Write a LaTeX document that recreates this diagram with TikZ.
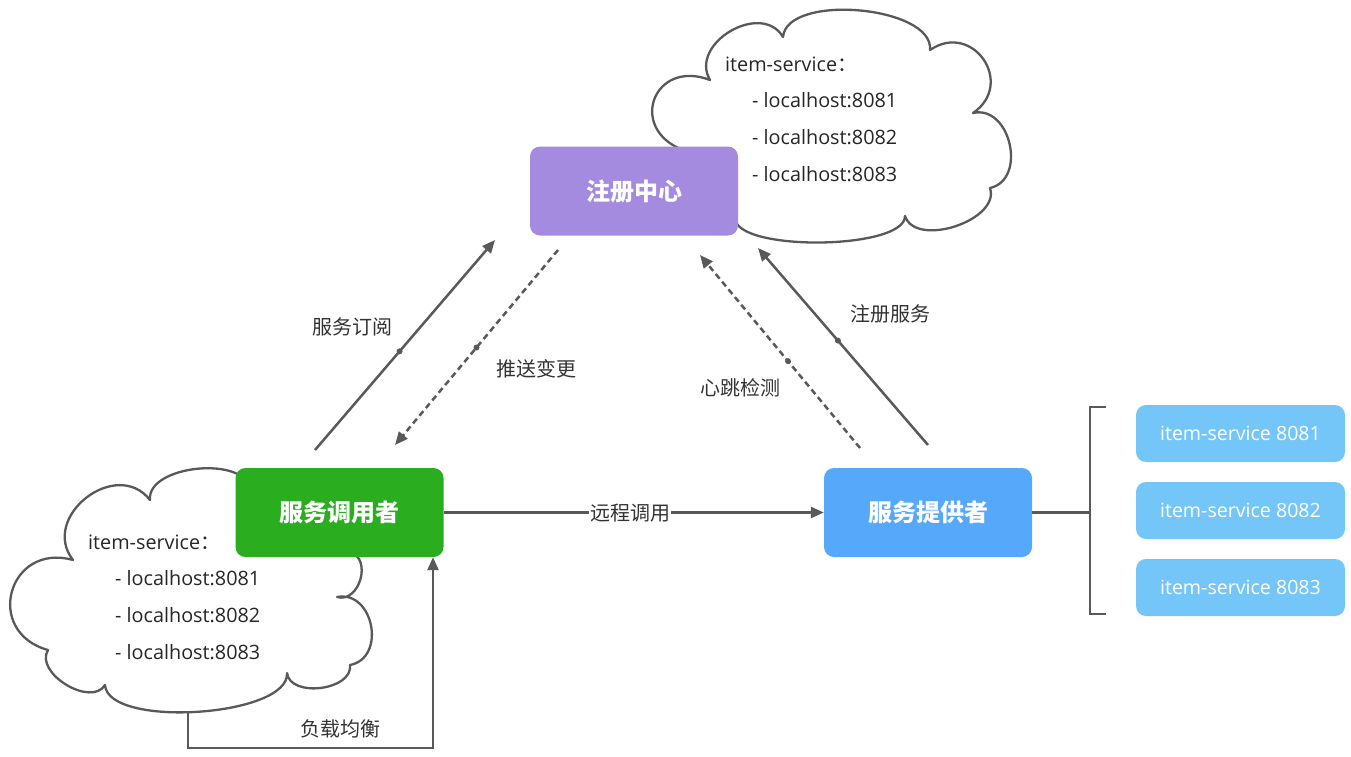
\documentclass[tikz,border=0pt]{standalone}
\usepackage{fontspec}
\setmainfont{Noto Sans CJK SC}
\newfontfamily\cjk{Noto Sans CJK SC}
\newfontfamily\latinsans{Open Sans}
\usetikzlibrary{arrows.meta,calc}

\definecolor{edge}{HTML}{595959}
\definecolor{regpurple}{HTML}{A48BE0}
\definecolor{callgreen}{HTML}{2AAE1F}
\definecolor{provblue}{HTML}{55A8FA}
\definecolor{instblue}{HTML}{75C6F8}

\tikzset{
  % one outward bulge of a cloud outline, traversed clockwise
  lobe/.style={to path={.. controls ($(\tikztostart)!#1!90:(\tikztotarget)$) and ($(\tikztotarget)!#1!-90:(\tikztostart)$) .. (\tikztotarget)}},
  cloudline/.style={draw=edge, line width=2.3pt, fill=white, line join=round},
  mainbox/.style={rounded corners=10pt, text=white, minimum width=208pt, minimum height=89pt,
    inner sep=0pt, font=\fontsize{24}{27}\selectfont\bfseries},
  instbox/.style={rounded corners=10pt, fill=instblue, text=white, minimum width=209pt,
    minimum height=57pt, inner sep=0pt, font=\latinsans\fontsize{19.6}{22}\selectfont},
  cloudtext/.style={anchor=west, inner sep=0pt, font=\latinsans\fontsize{19.8}{22}\selectfont, text=black!85},
  lbl/.style={inner sep=1pt, font=\fontsize{20}{24}\selectfont, text=black!80},
  conn/.style={draw=edge, line width=2.5pt, -{Triangle[length=13pt,width=11pt]}},
  dashconn/.style={conn, dash pattern=on 6pt off 4pt},
  plain/.style={draw=edge, line width=2.5pt},
  dot/.style={circle, fill=edge, inner sep=0pt, minimum size=6pt},
}

\begin{document}
\begin{tikzpicture}[x=1pt, y=-1pt]
\useasboundingbox[fill=white] (0,0) rectangle (1351,757);

% cloud behind the registry
\path[cloudline] (683,150) to[lobe=0.8] (710,80) to[lobe=0.5] (783,37) to[lobe=0.3] (930,50)
  to[lobe=0.68] (973,113) to[lobe=0.5] (990,188) to[lobe=0.38] (905,216) to[lobe=0.2] (735,218)
  -- (700,200) -- cycle;

% cloud behind the consumer
\path[cloudline] (73,560) to[lobe=0.56] (150,500) to[lobe=0.35] (250,490) -- (420,540) -- (350,552)
  to[lobe=0.5] (337,597) to[lobe=0.54] (350,665) to[lobe=0.4] (287,673) to[lobe=0.24] (105,685)
  to[lobe=0.4] (48,650) to[lobe=0.72] (73,560) -- cycle;

% cloud contents
\node[cloudtext] (tc0) at (725,64) {item-service{\cjk ：}};
\node[cloudtext] (tc1) at (752,100) {- localhost:8081};
\node[cloudtext] (tc2) at (752,137) {- localhost:8082};
\node[cloudtext] (tc3) at (752,174) {- localhost:8083};

\node[cloudtext] (bc0) at (88,542) {item-service{\cjk ：}};
\node[cloudtext] (bc1) at (115,578) {- localhost:8081};
\node[cloudtext] (bc2) at (115,615) {- localhost:8082};
\node[cloudtext] (bc3) at (115,652) {- localhost:8083};

% main boxes
\node[mainbox, fill=regpurple] (reg) at (634,191) {注册中心};
\node[mainbox, fill=callgreen] (cons) at (339.5,512.5) {服务调用者};
\node[mainbox, fill=provblue] (prov) at (928,512.5) {服务提供者};

% provider instances
\node[instbox] (i1) at (1240.5,433.5) {item-service 8081};
\node[instbox] (i2) at (1240.5,510.5) {item-service 8082};
\node[instbox] (i3) at (1240.5,587.5) {item-service 8083};

% bracket grouping the instances
\coordinate (brk) at (1090,512.5);
\coordinate (brkT) at (1090,407);
\coordinate (brkB) at (1090,614);
\draw[plain] (prov.east) -- (brk);
\draw[plain] ($(brkT)+(16,0)$) -- (brkT) -- (brkB) -- ($(brkB)+(16,0)$);

% subscribe / push
\coordinate (subS) at (315,450);
\coordinate (subE) at (495,240);
\draw[conn] (subS) -- (subE) node[dot, pos=0.47] (subdot) {};
\node[lbl] (sublbl) at (352,327) {服务订阅};

\coordinate (pushS) at (558,250);
\coordinate (pushE) at (395,445);
\draw[dashconn] (pushS) -- (pushE) node[dot, pos=0.5] (pushdot) {};
\node[lbl] (pushlbl) at (536,369) {推送变更};

% heartbeat / register
\coordinate (hbS) at (860,448);
\coordinate (hbE) at (700,255);
\draw[dashconn] (hbS) -- (hbE) node[dot, pos=0.45] (hbdot) {};
\node[lbl] (hblbl) at (740,388) {心跳检测};

\coordinate (rgS) at (928,445);
\coordinate (rgE) at (758,248);
\draw[conn] (rgS) -- (rgE) node[dot, pos=0.53] (rgdot) {};
\node[lbl] (rglbl) at (890,314) {注册服务};

% remote call
\draw[conn] (cons.east) -- (prov.west);
\node[lbl, fill=white] (calllbl) at (630,513) {远程调用};

% load balancing loop
\coordinate (lbS) at (188,713);
\coordinate (lbC1) at (188,748);
\coordinate (lbC2) at (433,748);
\draw[conn] (lbS) -- (lbC1) -- (lbC2) -- (lbC2 |- cons.south);
\node[lbl] (lblbl) at (340,729) {负载均衡};

\end{tikzpicture}
\end{document}
